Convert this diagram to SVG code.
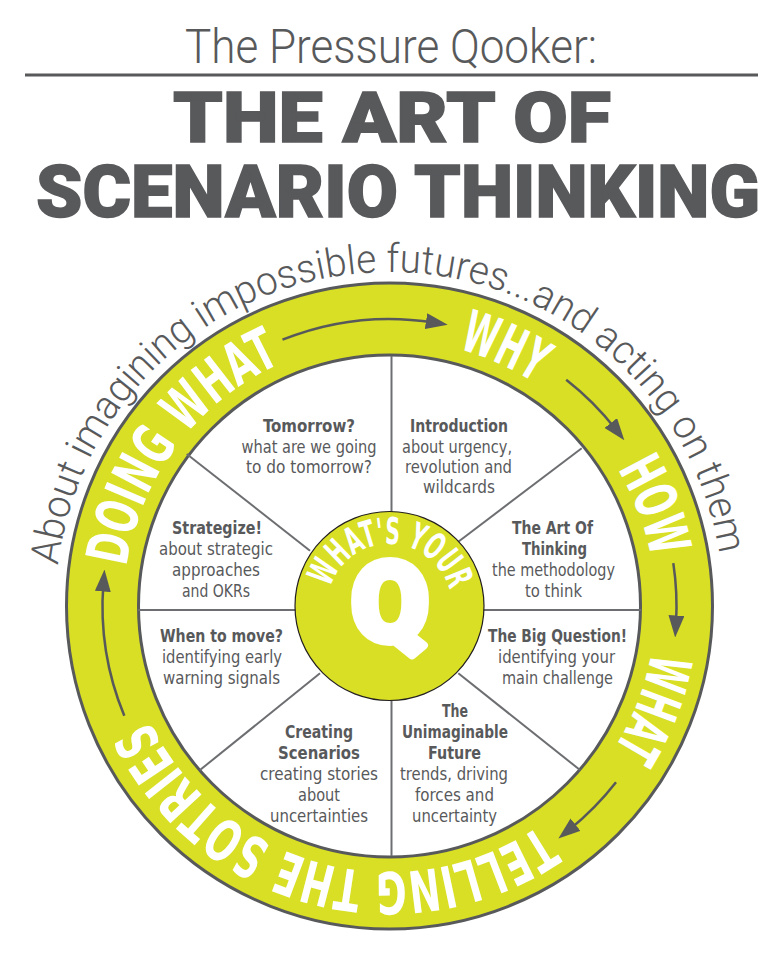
<svg xmlns="http://www.w3.org/2000/svg" width="779" height="956" viewBox="0 0 779 956">
<defs>
<style>
.sans{font-family:'Liberation Sans Narrow','DejaVu Sans Condensed','Liberation Sans',sans-serif}
.t{fill:#58595b;text-anchor:middle;font-size:17px}
.h{font-weight:bold;font-size:18px}
.ring{font-family:'Liberation Sans Narrow','DejaVu Sans Condensed','Liberation Sans',sans-serif;font-weight:bold;fill:#ffffff;font-size:58px}
.arrow{fill:none;stroke:#58595b;stroke-width:2.5;marker-end:url(#ah)}
.div{stroke:#6d6e71;stroke-width:2}
.title{font-family:Roboto,'Liberation Sans',sans-serif;font-weight:900;fill:#58595b;stroke:#58595b;stroke-width:1.5;text-anchor:middle}
</style>
<marker id="ah" markerUnits="userSpaceOnUse" markerWidth="22" markerHeight="16" refX="8" refY="8" orient="auto">
<path d="M0,0 L22,8 L0,16 Z" fill="#58595b"/>
</marker>
<path id="pAbout" d="M58.0,565.3 A334,334 0 0 1 719.4,553.8"/>
<path id="pDoing" d="M126.4,566.7 A266,266 0 0 1 281.3,363.0"/>
<path id="pWhy" d="M458.3,349.1 A266,266 0 0 1 534.4,382.9"/>
<path id="pHow" d="M617.5,469.0 A266,266 0 0 1 651.0,557.5"/>
<path id="pWhat" d="M651.5,652.2 A266,266 0 0 1 613.8,748.9"/>
<path id="pTell" d="M540.2,825.2 A266,266 0 0 1 149.4,720.5"/>
<path id="pQ" d="M330.2,587.9 A62,62 0 0 1 449.4,590.0"/>
</defs>

<g id="header">
<text x="391" y="63" font-family="Roboto,'Liberation Sans',sans-serif" font-weight="300" font-size="48" fill="#58595b" text-anchor="middle" textLength="412" lengthAdjust="spacingAndGlyphs">The Pressure Qooker:</text>
<line x1="25" y1="75" x2="758" y2="75" stroke="#58595b" stroke-width="3"/>
<text class="title" x="392" y="142" font-size="71" textLength="438" lengthAdjust="spacingAndGlyphs">THE ART OF</text>
<text class="title" x="398" y="217" font-size="73" textLength="724" lengthAdjust="spacingAndGlyphs">SCENARIO THINKING</text>
</g>

<g id="tagline">
<text font-family="Roboto,'Liberation Sans',sans-serif" font-weight="300" font-size="40" fill="#58595b"><textPath href="#pAbout" textLength="956" lengthAdjust="spacingAndGlyphs">About imagining impossible futures...and acting on them</textPath></text>
</g>

<g id="wheel">
<circle cx="389.5" cy="606" r="323" fill="#d8df24" stroke="#58595b" stroke-width="3"/>
<circle cx="389.5" cy="606" r="251" fill="#ffffff" stroke="#58595b" stroke-width="3"/>
</g>

<g id="ring-labels">
<text class="ring"><textPath href="#pDoing" textLength="267" lengthAdjust="spacingAndGlyphs">DOING WHAT</textPath></text>
<text class="ring"><textPath href="#pWhy" textLength="84" lengthAdjust="spacingAndGlyphs">WHY</textPath></text>
<text class="ring"><textPath href="#pHow" textLength="95" lengthAdjust="spacingAndGlyphs">HOW</textPath></text>
<text class="ring"><textPath href="#pWhat" textLength="104" lengthAdjust="spacingAndGlyphs">WHAT</textPath></text>
<text class="ring"><textPath href="#pTell" textLength="460" lengthAdjust="spacingAndGlyphs">TELLING THE SOTRIES</textPath></text>
</g>

<g id="connectors">
<path class="arrow" d="M282.5,339.7 A287,287 0 0 1 433.9,322.5"/>
<path class="arrow" d="M566.2,379.8 A287,287 0 0 1 615.7,429.3"/>
<path class="arrow" d="M673.3,563.1 A287,287 0 0 1 676.0,623.5"/>
<path class="arrow" d="M616.0,782.3 A287,287 0 0 1 569.3,829.7"/>
<path class="arrow" d="M124.3,715.8 A287,287 0 0 1 103.4,583.5"/>
<line class="div" x1="391.5" y1="356" x2="391.5" y2="512"/>
<line class="div" x1="391.5" y1="700" x2="391.5" y2="856"/>
<line class="div" x1="138" y1="610" x2="296" y2="610"/>
<line class="div" x1="483" y1="610" x2="641" y2="610"/>
<line class="div" x1="186.7" y1="454" x2="310" y2="550.7"/>
<line class="div" x1="581.7" y1="448.3" x2="458.3" y2="541.7"/>
<line class="div" x1="200" y1="770" x2="320" y2="673.3"/>
<line class="div" x1="580" y1="770" x2="458.3" y2="673.3"/>
</g>

<g id="center">
<circle cx="389.5" cy="606" r="94.5" fill="#d8df24" stroke="#231f20" stroke-width="1.2"/>
<text class="ring" style="font-size:37px"><textPath href="#pQ" textLength="160" lengthAdjust="spacingAndGlyphs">WHAT'S YOUR</textPath></text>
<text x="390" y="641" font-family="Roboto,'DejaVu Sans',sans-serif" font-weight="900" font-size="112" fill="#ffffff" stroke="#ffffff" stroke-width="8" stroke-linejoin="round" text-anchor="middle">Q</text>
</g>

<g id="s-tomorrow">
<text class="sans t"><tspan class="h" x="309" y="432" textLength="92" lengthAdjust="spacingAndGlyphs">Tomorrow?</tspan><tspan x="309" y="453" textLength="135" lengthAdjust="spacingAndGlyphs">what are we going</tspan><tspan x="309" y="473" textLength="126" lengthAdjust="spacingAndGlyphs">to do tomorrow?</tspan></text>
</g>
<g id="s-intro">
<text class="sans t"><tspan class="h" x="459" y="432" textLength="98" lengthAdjust="spacingAndGlyphs">Introduction</tspan><tspan x="457" y="453" textLength="110" lengthAdjust="spacingAndGlyphs">about urgency,</tspan><tspan x="458.5" y="473" textLength="107" lengthAdjust="spacingAndGlyphs">revolution and</tspan><tspan x="459" y="493" textLength="72" lengthAdjust="spacingAndGlyphs">wildcards</tspan></text>
</g>
<g id="s-art">
<text class="sans t"><tspan class="h" x="552.5" y="534" textLength="81" lengthAdjust="spacingAndGlyphs">The Art Of</tspan><tspan class="h" x="554.5" y="555" textLength="65" lengthAdjust="spacingAndGlyphs">Thinking</tspan><tspan x="553.5" y="576" textLength="123" lengthAdjust="spacingAndGlyphs">the methodology</tspan><tspan x="553.5" y="597" textLength="57" lengthAdjust="spacingAndGlyphs">to think</tspan></text>
</g>
<g id="s-big">
<text class="sans t"><tspan class="h" x="557.5" y="642" textLength="139" lengthAdjust="spacingAndGlyphs">The Big Question!</tspan><tspan x="556.5" y="663" textLength="117" lengthAdjust="spacingAndGlyphs">identifying your</tspan><tspan x="557.5" y="684" textLength="111" lengthAdjust="spacingAndGlyphs">main challenge</tspan></text>
</g>
<g id="s-future">
<text class="sans t"><tspan class="h" x="455" y="717" textLength="26" lengthAdjust="spacingAndGlyphs">The</tspan><tspan class="h" x="455" y="738" textLength="106" lengthAdjust="spacingAndGlyphs">Unimaginable</tspan><tspan class="h" x="454.5" y="759" textLength="53" lengthAdjust="spacingAndGlyphs">Future</tspan><tspan x="454" y="780" textLength="108" lengthAdjust="spacingAndGlyphs">trends, driving</tspan><tspan x="454.5" y="801" textLength="79" lengthAdjust="spacingAndGlyphs">forces and</tspan><tspan x="454.5" y="822" textLength="85" lengthAdjust="spacingAndGlyphs">uncertainty</tspan></text>
</g>
<g id="s-creating">
<text class="sans t"><tspan class="h" x="319" y="738" textLength="68" lengthAdjust="spacingAndGlyphs">Creating</tspan><tspan class="h" x="319" y="759" textLength="82" lengthAdjust="spacingAndGlyphs">Scenarios</tspan><tspan x="319" y="780" textLength="118" lengthAdjust="spacingAndGlyphs">creating stories</tspan><tspan x="319" y="801" textLength="42" lengthAdjust="spacingAndGlyphs">about</tspan><tspan x="319" y="822" textLength="98" lengthAdjust="spacingAndGlyphs">uncertainties</tspan></text>
</g>
<g id="s-when">
<text class="sans t"><tspan class="h" x="221.5" y="642" textLength="123" lengthAdjust="spacingAndGlyphs">When to move?</tspan><tspan x="222" y="663" textLength="120" lengthAdjust="spacingAndGlyphs">identifying early</tspan><tspan x="221.5" y="684" textLength="117" lengthAdjust="spacingAndGlyphs">warning signals</tspan></text>
</g>
<g id="s-strategize">
<text class="sans t"><tspan class="h" x="217" y="534" textLength="90" lengthAdjust="spacingAndGlyphs">Strategize!</tspan><tspan x="216" y="555" textLength="114" lengthAdjust="spacingAndGlyphs">about strategic</tspan><tspan x="216" y="576" textLength="88" lengthAdjust="spacingAndGlyphs">approaches</tspan><tspan x="216" y="597" textLength="68" lengthAdjust="spacingAndGlyphs">and OKRs</tspan></text>
</g>
</svg>
